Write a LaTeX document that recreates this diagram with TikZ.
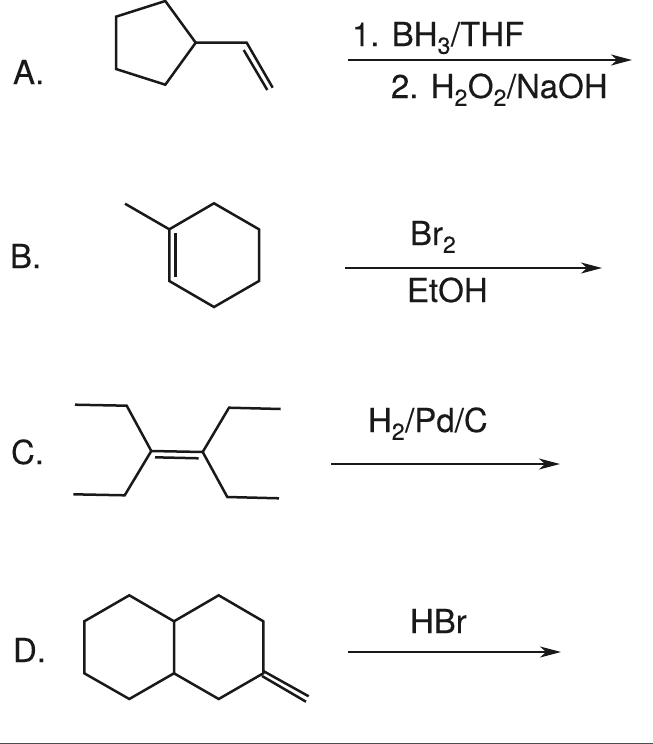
\documentclass[tikz,border=0pt]{standalone}
\usepackage{fontspec}
\setmainfont[FakeBold=0.15]{TeX Gyre Heros}
\usetikzlibrary{arrows.meta}
\tikzset{
	bond/.style={line width=2.5pt, line join=miter, line cap=butt, color=black!90},
	rxn/.style={line width=2.2pt, color=black!90, -{Stealth[length=21pt, width=11pt, inset=6pt]}},
	t/.style={anchor=base west, inner sep=0pt, outer sep=0pt, font=\fontsize{33}{35}\selectfont, text=black!90}
}
\newcommand{\ty}[1]{\textsubscript{#1}}

\begin{document}
\begin{tikzpicture}[x=1pt, y=-1pt]
	\useasboundingbox (0,0) rectangle (653,744);
	% labels
	\node[t] (labelA) at (13,84) {A.};
	\node[t] (labelB) at (10,268) {B.};
	\node[t] (labelC) at (11,464) {C.};
	\node[t] (labelD) at (13,662) {D.};
	% A
	\draw[bond] (165.3,1) -- (116,16.7) -- (116,69) -- (165.3,84.7) -- (195.7,42.7) -- cycle;
	\draw[bond] (195.7,42.7) -- (246.7,42.7) -- (272.7,87.7);
	\draw[bond] (243.7,50) -- (267.3,90);
	% B
	\draw[bond] (169.3,229.3) -- (214,203.3) -- (259,229.3) -- (259,281) -- (214,307) -- (169.3,281) -- cycle;
	\draw[bond] (125,203.7) -- (169.3,229.3);
	\draw[bond] (175.7,233.3) -- (175.7,277.3);
	% C
	\draw[bond] (75,404.7) -- (126.7,405.7) -- (151.3,451) -- (124.7,495.3) -- (73.3,494.3);
	\draw[bond] (280.7,409) -- (229,407.7) -- (202.7,452) -- (227.3,497) -- (279,498.3);
	\draw[bond] (151.3,451) -- (202.7,452);
	\draw[bond] (155,457.3) -- (198.7,458.3);
	% D
	\draw[bond] (174,621.3) -- (129.3,595.3) -- (84.3,621.3) -- (84.3,673.3) -- (129.3,699) -- (174,673.3) -- cycle;
	\draw[bond] (174,621.3) -- (218.7,595.3) -- (263.3,621.3) -- (263.3,673.3) -- (218.7,699) -- (174,673.3);
	\draw[bond] (263.3,671) -- (308.7,696.3);
	\draw[bond] (262,676) -- (306,701.7);
	% arrows
	\coordinate (startA) at (348,60);
	\coordinate (endA) at (632,60);
	\coordinate (startB) at (345,268);
	\coordinate (endB) at (602,268);
	\coordinate (startC) at (331,464);
	\coordinate (endC) at (560,464);
	\coordinate (startD) at (348,652);
	\coordinate (endD) at (561,652);
	\draw[rxn] (startA) -- (endA);
	\draw[rxn] (startB) -- (endB);
	\draw[rxn] (startC) -- (endC);
	\draw[rxn] (startD) -- (endD);
	% reagents
	\node[t] (stepone) at (352,46) {1. BH\ty{3}/THF};
	\node[t] (steptwo) at (391,98) {2. H\ty{2}O\ty{2}/NaOH};
	\node[t] (bromine) at (410,245) {Br\ty{2}};
	\node[t] (ethanol) at (407,302) {EtOH};
	\node[t] (hydrogen) at (368,432) {H\ty{2}/Pd/C};
	\node[t] (hbr) at (410,633) {HBr};
	% bottom edge
	\fill[black!70] (0,742.5) rectangle (653,744);
\end{tikzpicture}
\end{document}
